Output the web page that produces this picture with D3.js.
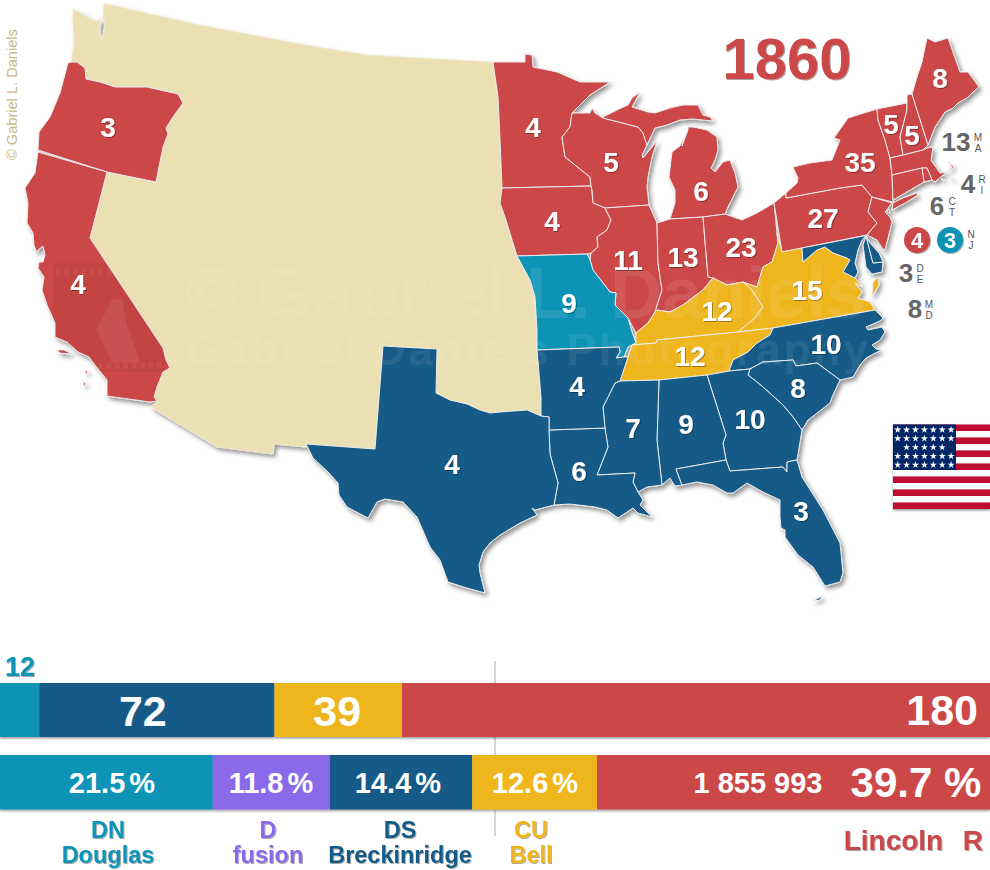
<!DOCTYPE html>
<html><head><meta charset="utf-8">
<script src="https://cdn.jsdelivr.net/npm/d3@7"></script>
<style>
html,body{margin:0;padding:0;background:#fff}
svg{display:block}
text{font-family:"Liberation Sans",Arial,sans-serif;font-weight:700;text-anchor:middle;white-space:pre}
</style></head><body>
<svg id="chart" width="990" height="870" viewBox="0 0 990 870"></svg>
<script>
// ---------- election data ----------
const year = "1860";
const parties = ["R","DN","DS","CU","T"];
const partyFill = ["#cc4647","#0d93b5","#135a87","#eeb61a","#ebe0b3"];
const stateNames = ["Oregon","California","Minnesota","Wisconsin","Michigan","Iowa","Illinois","Indiana","Ohio","Pennsylvania","New York","Vermont","New Hampshire","Maine","Massachusetts","Rhode Island","Connecticut","New Jersey","Missouri","Kentucky","Virginia","Tennessee","North Carolina","South Carolina","Georgia","Alabama","Mississippi","Louisiana","Arkansas","Texas","Florida","Maryland","Delaware"];
const stateParty = [0,0,0,0,0,0,0,0,0,0,0,0,0,0,0,0,0,0,1,3,3,3,2,2,2,2,2,2,2,2,2,2,2];
const stateVotes = [3,4,4,5,6,4,11,13,23,27,35,5,5,8,13,4,6,7,9,12,15,12,10,8,10,9,7,6,4,4,3,8,3];

const electoralParties = ["DN","DS","CU","R"];
const electoralVotes = [12,72,39,180];
const electoralFill = ["#0d93b5","#135a87","#eeb61a","#cc4647"];
const popularParties = ["DN","D fusion","DS","CU","R"];
const popularShare = [21.5,11.8,14.4,12.6,39.7];
const popularFill = ["#0d93b5","#8a6be8","#135a87","#eeb61a","#cc4647"];
const popularLabels = ["21.5 %","11.8 %","14.4 %","12.6 %"];
const lincolnVotes = "1 855 993";
const lincolnShare = "39.7 %";

// ---------- map geometry (source-map units) ----------
const territoryShape = [[[73,9],[73,20],[74,43],[72,55],[71,62],[77,62],[85,68],[86,79],[100,82],[115,87],[147,87],[178,94],[183,103],[173,117],[166,128],[168,134],[163,147],[156,182],[107,172],[90,238],[163,348],[166,360],[170,368],[163,372],[157,387],[154,397],[157,401],[151,407],[217,447],[273,454],[274,444],[306,447],[375,449],[383,346],[437,349],[436,393],[450,400],[467,404],[480,410],[490,413],[500,412],[527,410],[541,416],[541,397],[537,350],[537,330],[535,297],[530,280],[517,257],[515,253],[505,217],[502,190],[500,140],[498,97],[493,62],[367,55],[300,44],[200,25],[107,4],[104,4],[103,17],[105,25],[102,42],[100,30],[101,18],[97,22],[73,9]]];
const stateShapes = [
/*OR*/[[[71,62],[68,63],[60,93],[50,117],[39,132],[38,150],[107,172],[156,182],[163,147],[168,134],[166,128],[173,117],[183,103],[178,94],[147,87],[115,87],[100,82],[86,79],[85,68],[77,62]]],
/*CA*/[[[38,152],[107,172],[90,238],[163,348],[166,360],[170,368],[163,372],[157,387],[154,397],[157,401],[150,402],[107,396],[107,380],[95,365],[89,357],[78,352],[67,342],[55,337],[55,323],[47,305],[42,290],[44,277],[38,268],[39,262],[43,262],[45,255],[43,246],[38,250],[37,253],[34,245],[33,233],[27,223],[28,203],[25,188],[35,173]],[[57,350],[64,350],[72,354],[60,353]],[[85,370],[88,372],[86,374]],[[83,381],[86,384],[84,386]]],
/*MN*/[[[493,62],[525,62],[525,54],[532,55],[533,67],[557,72],[580,82],[610,82],[590,95],[572,113],[570,127],[562,137],[565,157],[590,177],[591,186],[502,188],[500,140],[498,97]]],
/*WI*/[[[572,113],[590,113],[592,108],[595,113],[603,118],[638,127],[643,133],[647,145],[642,155],[643,158],[657,141],[652,157],[648,177],[647,187],[649,205],[605,208],[593,203],[592,190],[591,186],[590,177],[565,157],[562,137],[570,127]]],
/*MI*/[[[603,118],[603,117],[617,110],[628,105],[632,98],[640,92],[632,107],[648,112],[655,113],[670,108],[683,105],[698,105],[703,115],[710,117],[713,121],[693,119],[680,120],[667,125],[655,128],[647,145],[643,133],[638,127]],[[688,127],[693,127],[707,130],[717,137],[718,150],[715,160],[711,168],[715,172],[723,162],[730,160],[735,173],[738,187],[733,197],[728,207],[725,214],[703,217],[670,219],[675,203],[675,190],[669,177],[672,152],[680,146],[684,137],[682,146],[688,130]]],
/*IA*/[[[502,188],[591,186],[592,193],[593,203],[605,208],[611,220],[607,230],[597,237],[598,247],[591,253],[587,254],[517,256],[505,217],[500,203]]],
/*IL*/[[[605,208],[649,205],[657,223],[658,263],[662,290],[655,312],[648,323],[636,333],[628,318],[615,305],[616,293],[610,292],[593,270],[590,260],[591,253],[598,247],[597,237],[607,230],[611,220]]],
/*IN*/[[[657,223],[670,219],[703,217],[708,277],[713,278],[703,290],[683,305],[670,312],[657,310],[655,312],[662,290],[658,263]]],
/*OH*/[[[703,217],[725,214],[742,220],[757,213],[774,203],[777,233],[778,243],[772,262],[763,267],[757,287],[743,282],[727,285],[713,278],[708,277]]],
/*PA*/[[[774,203],[786,193],[786,198],[840,188],[862,185],[872,197],[868,212],[877,223],[867,235],[782,252]]],
/*NY*/[[[786,193],[797,183],[798,178],[793,167],[810,163],[832,160],[840,140],[834,138],[848,118],[877,109],[878,120],[885,140],[890,158],[892,175],[893,202],[872,197],[862,185],[840,188],[786,198]],[[893,203],[903,198],[917,193],[918,195],[905,203],[892,210]],[[887,212],[889,209],[890,213]]],
/*VT*/[[[877,109],[907,103],[907,110],[900,137],[903,155],[890,158],[885,140],[878,120]]],
/*NH*/[[[907,95],[912,94],[928,145],[923,150],[903,155],[900,137],[907,110]]],
/*ME*/[[[927,38],[935,42],[948,38],[960,72],[968,72],[979,87],[972,93],[967,98],[958,103],[953,108],[945,112],[935,127],[928,145],[912,94],[917,77],[922,62]]],
/*MA*/[[[890,158],[903,155],[923,150],[930,147],[933,148],[931,160],[940,173],[947,172],[952,167],[948,161],[954,167],[943,175],[935,182],[932,180],[927,168],[922,168],[892,175]],[[941,179],[945,180],[943,181]],[[950,178],[954,179],[952,180]]],
/*RI*/[[[922,168],[927,168],[932,180],[924,182]]],
/*CT*/[[[892,175],[922,168],[924,182],[893,200]]],
/*NJ*/[[[872,197],[892,203],[885,212],[890,217],[892,222],[885,250],[882,248],[877,240],[867,235],[877,223],[868,212]]],
/*MO*/[[[517,256],[587,254],[590,260],[593,270],[610,292],[616,293],[615,305],[628,318],[632,332],[636,343],[632,345],[628,347],[624,357],[616,358],[620,352],[619,347],[537,350],[537,330],[535,297],[530,280]]],
/*KY*/[[[636,333],[648,323],[655,312],[657,310],[670,312],[683,305],[703,290],[713,278],[727,285],[743,282],[752,290],[763,307],[755,318],[738,332],[657,340],[656,343],[632,345],[636,343]]],
/*VA*/[[[777,233],[782,252],[802,248],[803,262],[817,250],[825,247],[833,253],[847,258],[850,260],[843,272],[855,278],[863,287],[855,283],[862,292],[858,298],[870,302],[875,310],[773,328],[738,332],[755,318],[763,307],[752,290],[743,282],[757,287],[763,267],[772,262],[778,243]],[[878,277],[879,285],[872,297],[873,282]]],
/*TN*/[[[632,345],[656,343],[657,340],[738,332],[773,328],[770,335],[757,343],[748,352],[733,360],[729,371],[707,375],[659,380],[620,381],[624,368],[628,357]]],
/*NC*/[[[773,328],[875,310],[883,318],[880,321],[866,327],[868,330],[882,327],[885,332],[880,340],[872,345],[876,349],[881,350],[866,358],[860,365],[853,377],[840,380],[817,363],[796,366],[793,360],[763,362],[750,369],[729,371],[733,360],[748,352],[757,343],[770,335]]],
/*SC*/[[[750,369],[763,362],[793,360],[796,366],[817,363],[840,380],[832,397],[830,403],[808,420],[802,430],[793,417],[783,405],[763,387],[757,382],[748,375]]],
/*GA*/[[[707,375],[729,371],[750,369],[748,375],[757,382],[763,387],[783,405],[793,417],[802,430],[797,460],[787,462],[787,472],[783,467],[730,471],[726,460],[723,443],[726,435]]],
/*AL*/[[[659,380],[707,375],[726,435],[723,443],[726,460],[676,469],[682,485],[675,486],[670,478],[662,485],[657,440]]],
/*MS*/[[[620,381],[659,380],[657,440],[662,485],[647,487],[638,492],[633,482],[635,473],[597,475],[608,447],[605,430],[603,407],[615,383]]],
/*LA*/[[[549,430],[605,428],[608,447],[597,475],[635,473],[633,482],[638,492],[643,500],[640,505],[652,517],[638,513],[633,508],[618,518],[607,510],[595,507],[570,504],[554,505],[558,483],[550,454]]],
/*AR*/[[[537,350],[619,347],[620,352],[616,358],[624,357],[628,357],[620,381],[615,383],[603,407],[605,428],[549,430],[549,417],[541,416],[541,397]]],
/*TX*/[[[306,444],[375,449],[383,346],[437,349],[436,393],[450,400],[467,404],[480,410],[490,413],[500,412],[527,410],[541,416],[549,417],[549,430],[550,454],[558,483],[554,505],[535,510],[532,508],[537,515],[520,523],[500,535],[490,543],[483,552],[479,565],[480,573],[485,593],[467,588],[448,582],[440,560],[430,547],[417,517],[403,502],[385,499],[377,502],[368,518],[347,507],[339,495],[338,483],[328,472],[313,458]]],
/*FL*/[[[676,469],[726,460],[730,471],[783,467],[787,472],[787,462],[797,460],[802,477],[823,510],[840,543],[843,573],[840,582],[825,586],[813,567],[798,555],[785,537],[785,530],[781,528],[780,517],[780,500],[763,492],[747,483],[733,493],[727,493],[713,485],[697,482],[682,485]],[[813,601],[822,596],[820,600]]],
/*MD*/[[[802,248],[866,235.5],[862,240],[858,250],[855,263],[858,272],[855,278],[843,272],[850,260],[847,258],[833,253],[825,247],[817,250],[803,262]],[[866,236],[873,263],[883,262],[882,272],[872,274],[866,267],[863,245]]],
/*DE*/[[[866,236],[870,243],[879,253],[883,262],[873,263]]]
];

// ---------- annotation lists ----------
const labelAnchorX = [108,78,533,611,701,552,628,683,741,823,860,891,912,940,null,null,null,null,569,717,807,690,826,798,750,686,633,579,577,452,801,null,null];
const labelAnchorY = [127,284,127,162,191,221,260,257,247,218,162,124,135,78,null,null,null,null,303,311,290,356,344,388,419,424,428,471,386,464,511,null,null];
const sideValues = ["13","4","6","3","8"];
const sideCodes = [["M","A"],["R","I"],["C","T"],["D","E"],["M","D"]];
const sideX = [956,968,937,906,915];
const sideY = [142,184,206,273,309];
const sideCodeX = [978,982,952,920,929];
const njSplit = [4,3];
const njFill = ["#cc4647","#0d93b5"];
const njX = [917,950];
const flagStripes = d3.range(13);
const flagStarRows = [7,7,5,7,7];

const svg = d3.select("#chart");
const defs = svg.append("defs");
function shadow(id,dx,dy,b,op){
  const f=defs.append("filter").attr("id",id).attr("x","-10%").attr("y","-10%").attr("width","125%").attr("height","130%");
  f.append("feDropShadow").attr("dx",dx).attr("dy",dy).attr("stdDeviation",b).attr("flood-color","#000").attr("flood-opacity",op);
}
shadow("landShadow",2.5,3,2,.42);
shadow("barShadow",0,1.5,1,.4);
shadow("textShadow",1,1,.7,.35);

// ---------- map ----------
const geoPath = d3.geoPath(d3.geoIdentity());
const closeRing = r => [...r, r[0]];
const features = stateNames.map((n,i)=>({type:"Feature",properties:{name:n,party:stateParty[i],votes:stateVotes[i]},
  geometry:{type:"MultiPolygon",coordinates:stateShapes[i].map(r=>[closeRing(r)])}}));
const land = svg.append("g").attr("filter","url(#landShadow)");
land.append("path").datum({type:"Polygon",coordinates:territoryShape}).attr("d",geoPath).attr("fill",partyFill[4]).attr("stroke","#f1ecd6").attr("stroke-width",.8);
land.selectAll("path.state").data(features).join("path").attr("class","state")
  .attr("d",geoPath).attr("fill",d=>partyFill[d.properties.party])
  .attr("stroke","#ececec").attr("stroke-width",1).attr("stroke-linejoin","round");

// ---------- watermark ----------
defs.append("clipPath").attr("id","caClip").append("path").datum(features[1]).attr("d",geoPath);
const wm = svg.append("g").attr("pointer-events","none");
wm.append("rect").attr("x",53).attr("y",263).attr("width",120).attr("height",109).attr("fill","#000").attr("opacity",.04).attr("clip-path","url(#caClip)");
wm.selectAll("rect.hole").data(d3.range(14).flatMap(i=>[[i,0],[i,1]])).join("rect").attr("class","hole")
  .attr("x",d=>56+d[0]*8.4).attr("y",d=>d[1]?362:268).attr("width",5).attr("height",7).attr("fill","#fff").attr("opacity",.05);
wm.append("path").attr("d",d3.line()([[96,330],[112,300],[122,298],[126,322],[140,362],[112,362]])+"Z").attr("fill","#fff").attr("opacity",.07);
wm.append("text").attr("x",185).attr("y",318).attr("font-size",72).style("text-anchor","start").attr("fill","#fff").attr("opacity",.09).text("© Gabriel L. Daniels");
wm.append("text").attr("x",186).attr("y",365).attr("font-size",44).attr("letter-spacing",3).style("text-anchor","start").attr("fill","#fff").attr("opacity",.07).text("Gabriel Daniels Photography");

// ---------- state numbers ----------
svg.append("g").attr("filter","url(#textShadow)").selectAll("text").data(features.filter((d,i)=>labelAnchorX[i]!==null)).join("text")
  .attr("x",d=>labelAnchorX[stateNames.indexOf(d.properties.name)])
  .attr("y",d=>labelAnchorY[stateNames.indexOf(d.properties.name)])
  .attr("dy","0.36em").attr("font-size",28).attr("fill","#fff").text(d=>d.properties.votes);

// ---------- title + credit ----------
svg.append("text").attr("x",787).attr("y",79).attr("font-size",58).attr("fill","#cc4647").attr("filter","url(#textShadow)").text(year);
svg.append("text").attr("transform","translate(17,160) rotate(-90)").style("text-anchor","start").style("font-weight",400)
  .attr("font-size",14.6).attr("fill","#c9b985").text("© Gabriel L. Daniels");

// ---------- small-state side labels ----------
const side = svg.append("g");
side.selectAll("text.val").data(sideValues).join("text").attr("class","val").attr("x",(d,i)=>sideX[i]).attr("y",(d,i)=>sideY[i])
  .attr("dy","0.36em").attr("font-size",26).attr("fill","#666").text(d=>d);
sideCodes.forEach((c,i)=>c.forEach((ch,j)=>side.append("text").attr("x",sideCodeX[i]).attr("y",sideY[i]-1.5+j*11)
  .attr("font-size",10).style("font-weight",400).attr("fill","#555").text(ch)));
const nj = svg.append("g").attr("filter","url(#textShadow)");
nj.selectAll("circle").data(njSplit).join("circle").attr("cx",(d,i)=>njX[i]).attr("cy",240).attr("r",13).attr("fill",(d,i)=>njFill[i]);
nj.selectAll("text").data(njSplit).join("text").attr("x",(d,i)=>njX[i]).attr("y",240).attr("dy","0.36em").attr("font-size",22).attr("fill","#fff").text(d=>d);
["N","J"].forEach((ch,j)=>svg.append("text").attr("x",971).attr("y",238+j*11).attr("font-size",10).style("font-weight",400).attr("fill","#555").text(ch));

// ---------- flag ----------
const stripeY = d3.scaleBand().domain(flagStripes).range([424.5,509]);
const flag = svg.append("g").attr("filter","url(#barShadow)");
flag.selectAll("rect.stripe").data(flagStripes).join("rect").attr("class","stripe")
  .attr("x",893).attr("width",97).attr("y",d=>stripeY(d)).attr("height",stripeY.bandwidth())
  .attr("fill",d=>d%2?"#fff":"#bf0a30");
flag.append("rect").attr("x",893).attr("y",424.5).attr("width",63).attr("height",stripeY(7)-424.5).attr("fill","#002868");
const star = d3.symbol().type(d3.symbolStar).size(16)();
flagStarRows.forEach((n,r)=>{
  const x0 = n===7?0:1;
  d3.range(n).forEach(c=>flag.append("path").attr("d",star)
    .attr("transform",`translate(${897.7+(x0+c)*8.9},${429.7+r*8.8})`).attr("fill","#fff"));
});

// ---------- stacked bars ----------
const evX = d3.scaleLinear().domain([0,d3.sum(electoralVotes)]).range([0,990]);
const popX = d3.scaleLinear().domain([0,100]).range([0,990]);
const stack = a=>{let s=0;return a.map(v=>{const r=[s,s+v];s+=v;return r;});};
svg.append("line").attr("x1",495).attr("x2",495).attr("y1",661).attr("y2",836).attr("stroke","#aaa").attr("stroke-width",1);
const evBar = svg.append("g").attr("filter","url(#barShadow)");
evBar.selectAll("rect").data(stack(electoralVotes)).join("rect").attr("x",d=>evX(d[0])).attr("width",d=>evX(d[1])-evX(d[0])).attr("y",683).attr("height",54).attr("fill",(d,i)=>electoralFill[i]);
const popBar = svg.append("g").attr("filter","url(#barShadow)");
popBar.selectAll("rect").data(stack(popularShare)).join("rect").attr("x",d=>popX(d[0])).attr("width",d=>popX(d[1])-popX(d[0])).attr("y",755).attr("height",54.5).attr("fill",(d,i)=>popularFill[i]);

const ev = stack(electoralVotes);
svg.append("text").attr("x",20).attr("y",676).attr("font-size",27).attr("fill","#0d93b5").attr("filter","url(#textShadow)").text(electoralVotes[0]);
[1,2].forEach(i=>svg.append("text").attr("x",evX((ev[i][0]+ev[i][1])/2)-14*(i===1?1:0)+(i===2?-1:0)).attr("y",726).attr("font-size",43).attr("fill","#fff").text(electoralVotes[i]));
svg.append("text").attr("x",978).style("text-anchor","end").attr("y",725).attr("font-size",43).attr("fill","#fff").text(electoralVotes[3]);

const popCentre = [112,271,398,535];
svg.append("g").selectAll("text").data(popularLabels).join("text").attr("x",(d,i)=>popCentre[i]).attr("y",793).attr("font-size",29)
  .style("word-spacing","-4px").attr("fill","#fff").text(d=>d);
svg.append("text").attr("x",758).attr("y",793).attr("font-size",29).attr("fill","#fff").text(lincolnVotes);
svg.append("text").attr("x",916).attr("y",797).attr("font-size",42).attr("fill","#fff").text(lincolnShare);

// ---------- legend ----------
const legendTop = ["DN","D","DS","CU"];
const legendBottom = ["Douglas","fusion","Breckinridge","Bell"];
const legendFill = ["#0d93b5","#8a6be8","#135a87","#eeb61a"];
const legendX = [108,268,400,531];
const lg = svg.append("g").attr("filter","url(#textShadow)");
lg.selectAll("text.t").data(legendTop).join("text").attr("class","t").attr("x",(d,i)=>legendX[i]).attr("y",838).attr("font-size",23.5).attr("fill",(d,i)=>legendFill[i]).text(d=>d);
lg.selectAll("text.b").data(legendBottom).join("text").attr("class","b").attr("x",(d,i)=>legendX[i]).attr("y",863).attr("font-size",23.5).attr("fill",(d,i)=>legendFill[i]).text(d=>d);
lg.append("text").attr("x",983).attr("y",850).style("text-anchor","end").style("word-spacing","2px").attr("font-size",28).attr("fill","#cc4647").text("Lincoln  R");
</script>
</body></html>
